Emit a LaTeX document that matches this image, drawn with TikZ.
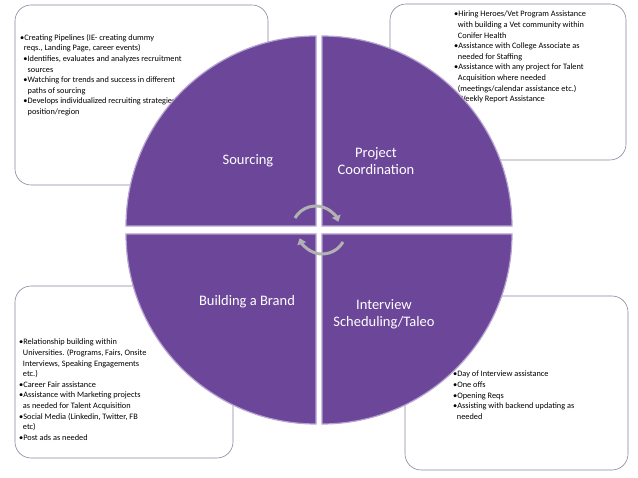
\documentclass[tikz,border=0pt]{standalone}
\usepackage{fontspec}
\setmainfont{Carlito}
\usetikzlibrary{arrows.meta}
\definecolor{pq}{HTML}{6C4799}
\definecolor{pe}{HTML}{B7A3D3}
\definecolor{bx}{HTML}{8C84A0}
\begin{document}
\begin{tikzpicture}[x=1pt,y=-1pt,
  card/.style={draw=bx,line width=0.6pt,rounded corners=16pt,fill=white},
  txt/.style={anchor=north west,align=left,font=\fontsize{8.3}{10.6}\selectfont,inner sep=0},
  quad/.style={fill=pq,draw=pe,line width=1.2pt},
  lbl/.style={text=white,font=\fontsize{14.5}{17}\selectfont,align=center},
  cyc/.style={draw=gray!60,line width=3pt,-{Triangle[length=6pt,width=9pt]}}]
\useasboundingbox (0,0) rectangle (638,478);
\draw[card] (15,5) rectangle (268,185);
\draw[card] (390,4) rectangle (626,160);
\draw[card] (15,286) rectangle (233,458);
\draw[card] (405,296) rectangle (628,470);
\node[txt] (t1) at (20,34) {•Creating Pipelines (IE- creating dummy\\\ \ reqs., Landing Page, career events)\\\ \,•Identifies, evaluates and analyzes recruitment\\\ \ \ \ sources\\\ \,•Watching for trends and success in different\\\ \ \ \ paths of sourcing\\\ \,•Develops individualized recruiting strategies by\\\ \ \ \ position/region};
\node[txt] (t2) at (454,11) {•Hiring Heroes/Vet Program Assistance\\\ \ with building a Vet community within\\\ \ Conifer Health\\•Assistance with College Associate as\\\ \ needed for Staffing\\•Assistance with any project for Talent\\\ \ Acquisition where needed\\\ \ (meetings/calendar assistance etc.)\\•Weekly Report Assistance};
\node[txt] (t3) at (19,339) {•Relationship building within\\\ \ Universities. (Programs, Fairs, Onsite\\\ \ Interviews, Speaking Engagements\\\ \ etc.)\\•Career Fair assistance\\•Assistance with Marketing projects\\\ \ as needed for Talent Acquisition\\•Social Media (Linkedin, Twitter, FB\\\ \ etc)\\•Post ads as needed};
\node[txt] (t4) at (453,371) {•Day of Interview assistance\\•One offs\\•Opening Reqs\\•Assisting with backend updating as\\\ \ needed};
\fill[quad] (316,226) -- (126,226) arc[start angle=180,end angle=270,radius=190] -- cycle;
\fill[quad] (322,226) -- (322,36) arc[start angle=-90,end angle=0,radius=190] -- cycle;
\fill[quad] (316,234) -- (316,424) arc[start angle=90,end angle=180,radius=190] -- cycle;
\fill[quad] (322,234) -- (512,234) arc[start angle=0,end angle=90,radius=190] -- cycle;
\node[lbl] (s) at (248,161) {Sourcing};
\node[lbl] (p) at (376,161) {Project\\Coordination};
\node[lbl] (b) at (247,302) {Building a Brand};
\node[lbl] (i) at (384,314) {Interview\\Scheduling/Taleo};
\draw[cyc] (295,218) arc[start angle=210,end angle=340,radius=24];
\draw[cyc] (343,242) arc[start angle=30,end angle=160,radius=24];
\end{tikzpicture}
\end{document}
